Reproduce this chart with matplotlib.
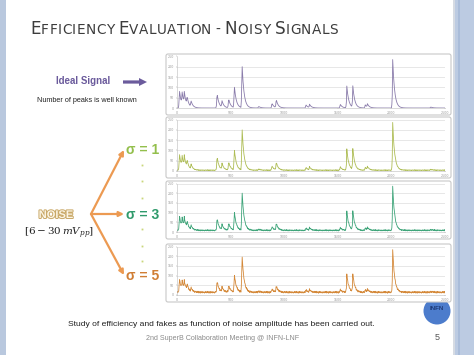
import numpy as np
import matplotlib
matplotlib.use("Agg")
import matplotlib.pyplot as plt
from matplotlib.patches import FancyArrow, Rectangle, Circle, FancyBboxPatch
import matplotlib.patheffects as pe

W, H = 474, 355

# ---- data ----
peak_pos = [22, 47, 68, 93, 130, 373, 419, 481, 534, 606, 761, 885, 925,
            1202, 1236, 1522, 1584, 1640, 1755, 1776, 2012, 2366]
peak_h_ideal = [90, 60, 55, 40, 30, 72, 32, 45, 110, 222, 8, 24, 40,
                16, 16, 19, 106, 103, 16, 16, 235, 5]
peak_h_s1 = [85, 55, 50, 35, 25, 68, 30, 42, 105, 218, 6, 22, 38,
             14, 14, 17, 102, 100, 14, 14, 232, 4]
peak_h_s3 = [82, 52, 48, 33, 22, 65, 28, 40, 100, 215, 6, 20, 36,
             12, 12, 15, 98, 96, 12, 12, 228, 4]
peak_h_s5 = [75, 48, 42, 30, 20, 60, 25, 38, 95, 205, 6, 18, 32,
             12, 12, 15, 92, 90, 12, 12, 220, 4]
noise_pattern = [0.2, 0.9, 0.4, 1.0, 0.1, 0.7, 0.3, 0.8, 0.0, 0.6, 0.95, 0.25,
                 0.5, 0.85, 0.15, 0.65, 0.35, 0.75, 0.05, 0.55, 0.45, 0.9, 0.3]
noise_base = [0, 2, 5, 9]
noise_amp = [0, 4, 7, 10]
x_ticks = [0, 500, 1000, 1500, 2000, 2500]
y_ticks = [0, 50, 100, 150, 200, 250]
colors = ["#8a7cab", "#aebd55", "#3fa57a", "#d4893a"]
heights = [peak_h_ideal, peak_h_s1, peak_h_s3, peak_h_s5]
title_words = "Efficiency Evaluation - Noisy Signals"

fig = plt.figure(figsize=(W / 100, H / 100), dpi=100)
bg = fig.add_axes([0, 0, 1, 1])
bg.set_xlim(0, W)
bg.set_ylim(H, 0)
bg.axis("off")

# slide borders
bg.add_patch(Rectangle((0, 0), 6, H, color="#b9c8de", lw=0))
bg.add_patch(Rectangle((453, 0), 2.5, H, color="#d6dbe3", lw=0))
bg.add_patch(Rectangle((455.5, 0), 18.5, H, color="#bccbe2", lw=0))
bg.add_patch(Rectangle((458, 0), 2, H, color="#a9bcd9", lw=0))

# title in small caps, stretched to span x = 30 .. 338
fig.canvas.draw()
rend = fig.canvas.get_renderer()
tcol = "#3c3c3c"
pieces = []
for ch in title_words:
    if ch == " ":
        pieces.append((None, 3.5))
        continue
    big = ch.isupper()
    fs = 12.1 if big else 9.8
    t = bg.text(0, 34, ch.upper(), fontsize=fs, color=tcol, va="baseline",
                ha="left", family="DejaVu Sans")
    bb = t.get_window_extent(rend)
    pieces.append((t, bb.width))
total = sum(w for _, w in pieces)
n_gap = len(pieces) - 1
extra = (338 - 30 - total) / n_gap
x = 30.0
for t, w in pieces:
    if t is not None:
        t.set_x(x)
    x += w + extra

# left-side annotations
bg.text(83, 81, "Ideal Signal", fontsize=7, fontweight="bold",
        color="#6b5b9c", ha="center", va="center", family="Liberation Sans")
bg.add_patch(FancyArrow(123, 82, 16, 0, width=3.2, head_width=8,
                        head_length=8, color="#6b5b9c", lw=0))
bg.text(87, 101, "Number of peaks is well known", fontsize=5.2,
        color="#222222", ha="center", va="center", family="Liberation Sans")

orange = "#ec9a52"
for ty in [150, 214, 275]:
    bg.annotate("", xy=(124, ty), xytext=(91, 214),
                arrowprops=dict(arrowstyle="-|>", color=orange, lw=1.6,
                                mutation_scale=7, shrinkA=0, shrinkB=0))
bg.text(126, 150, "σ = 1", fontsize=10, fontweight="bold", color="#93bf4c",
        va="center", ha="left", family="Liberation Sans")
bg.text(126, 215, "σ = 3", fontsize=10, fontweight="bold", color="#2f9a6b",
        va="center", ha="left", family="Liberation Sans")
bg.text(126, 276, "σ = 5", fontsize=10, fontweight="bold", color="#d07e35",
        va="center", ha="left", family="Liberation Sans")
for dy in [165, 181, 198, 229, 246, 261]:
    bg.plot([142], [dy], marker="s", ms=1.3, color="#c9d77a", mec="none")

bg.text(56, 215, "NOISE", fontsize=8, fontweight="bold", color="#fbf4e4",
        ha="center", va="center", family="Liberation Sans",
        path_effects=[pe.withStroke(linewidth=1.4, foreground="#c9a867")])
bg.text(59, 233, r"$[6 - 30\,mV_{pp}]$", fontsize=7.5, color="#222222",
        ha="center", va="center", family="DejaVu Serif",
        math_fontfamily="dejavuserif")

# bottom texts
bg.text(221, 324, "Study of efficiency and fakes as function of noise amplitude has been carried out.",
        fontsize=6.1, color="#222222", ha="center", va="center",
        family="Liberation Sans")
bg.text(223, 338, "2nd SuperB Collaboration Meeting @ INFN-LNF", fontsize=5.1,
        color="#8a8a8a", ha="center", va="center", family="Liberation Sans")
bg.text(437, 338, "5", fontsize=6.5, color="#555555", ha="center",
        va="center", family="Liberation Sans")
bg.add_patch(Circle((437, 311), 13.5, color="#4c7ccc", lw=0))
bg.text(437, 309, "INFN", fontsize=4.5, fontweight="bold", color="#1d3a78",
        ha="center", va="center", family="Liberation Sans")

# panels
boxes = [(166, 54, 451, 115), (166, 117, 451, 178),
         (166, 181, 451, 239), (166, 244, 451, 302)]

t_axis = np.arange(0, 2501, 4)


def px_axes(x0, y0, x1, y1):
    return fig.add_axes([x0 / W, 1 - y1 / H, (x1 - x0) / W, (y1 - y0) / H])


for i, (x0, y0, x1, y1) in enumerate(boxes):
    bg.add_patch(FancyBboxPatch((x0, y0), x1 - x0, y1 - y0,
                                boxstyle="round,pad=0,rounding_size=2",
                                fc="white", ec="#c8c8c8", lw=0.8))
    ax = px_axes(x0 + 11, y0 + 2.5, x1 - 6, y1 - 7)
    sig = np.zeros_like(t_axis, dtype=float)
    for p, h in zip(peak_pos, heights[i]):
        d = t_axis - p
        sig += np.where(d >= 0, h * np.exp(-np.clip(d, 0, None) / 18.0),
                        h * np.exp(-np.clip(-d, 0, None) / 3.0) * (d > -10))
    pat = np.array(noise_pattern)
    reps = len(t_axis) // len(pat) + 1
    noise = np.tile(pat, reps)[:len(t_axis)]
    sig = sig + noise_base[i] + noise_amp[i] * noise
    ax.plot(t_axis, sig, color=colors[i], lw=0.6)
    ax.set_xlim(0, 2500)
    ax.set_ylim(0, 250)
    ax.set_xticks(x_ticks)
    ax.set_yticks(y_ticks)
    ax.set_xticklabels([str(v) for v in x_ticks])
    ax.set_yticklabels([str(v) for v in y_ticks])
    ax.tick_params(labelsize=2.3, colors="#999999", length=1, width=0.3,
                   pad=1)
    ax.grid(axis="y", color="#dddddd", lw=0.5)
    ax.set_axisbelow(True)
    for s in ["top", "right"]:
        ax.spines[s].set_visible(False)
    for s in ["left", "bottom"]:
        ax.spines[s].set_color("#bbbbbb")
        ax.spines[s].set_linewidth(0.4)
    ax.patch.set_alpha(0)

fig.savefig("out.png", dpi=100)
